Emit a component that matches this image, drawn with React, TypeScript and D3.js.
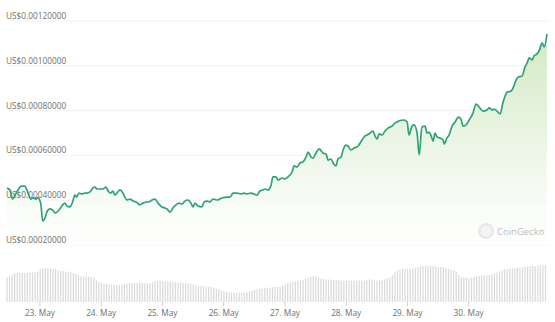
import React from "react";
import * as d3 from "d3";

// Hours since 22 May 00:00 and price in US$
const priceHours = [
  11.1, 12.2, 13.3, 14.2, 15.4, 16.8, 18.1, 18.9, 20.4, 21.3, 22.4, 23.2, 24.3, 25.1, 26.0, 26.7, 27.9, 29.0, 29.9, 30.7,
  31.8, 32.9, 33.8, 34.6, 35.8, 36.8, 37.7, 38.4, 39.3, 40.5, 41.6, 42.4, 43.6, 44.7, 45.6, 46.3, 47.5, 48.7, 49.9, 50.7,
  51.8, 52.6, 53.4, 54.2, 55.4, 56.5, 57.3, 58.1, 59.3, 60.5, 62.0, 63.2, 64.4, 66.0, 66.7, 67.9, 69.1, 70.3, 71.8, 73.0,
  73.8, 75.0, 76.1, 77.3, 78.5, 79.7, 80.8, 82.0, 83.2, 84.0, 84.8, 85.9, 87.5, 88.3, 89.5, 90.6, 91.8, 93.4, 95.3, 97.3,
  98.5, 99.7, 101.2, 102.8, 104.0, 105.1, 106.7, 107.9, 109.1, 110.2, 111.4, 112.2, 113.4, 114.6, 115.3, 116.5, 117.3, 118.9, 120.0, 121.2,
  122.8, 123.6, 124.7, 125.9, 127.1, 128.3, 129.1, 130.2, 131.0, 132.2, 133.4, 134.9, 136.1, 136.9, 138.1, 138.9, 140.0, 140.8, 142.0, 142.8,
  143.9, 144.7, 145.9, 147.1, 148.7, 150.2, 151.4, 152.2, 153.4, 154.5, 155.3, 156.1, 156.9, 158.1, 159.2, 160.4, 162.0, 163.2, 163.9, 165.1,
  166.7, 167.9, 168.6, 169.8, 170.6, 171.8, 172.6, 173.7, 174.9, 175.7, 176.5, 177.3, 178.1, 178.8, 179.6, 180.8, 182.0, 182.4, 183.5, 184.3,
  185.5, 186.7, 187.9, 189.0, 189.8, 191.0, 192.2, 193.7, 194.9, 196.1, 197.7, 199.2, 200.0, 201.2, 202.0, 203.1, 204.3, 205.5, 206.3, 207.1,
  208.6, 209.4, 210.6, 211.4, 212.9, 214.1, 214.9, 215.7, 216.9, 217.6, 218.8, 219.6, 220.8, 221.6, 222.7,
];

// price in millionths of a US$
const pricesMicro = [
  454, 446, 405, 423, 446, 463, 463, 446, 405, 410, 405, 410, 387, 307, 321, 347, 361, 356, 343, 347,
  361, 379, 387, 374, 370, 392, 423, 414, 432, 428, 432, 432, 437, 454, 459, 450, 450, 450, 459, 441,
  432, 441, 423, 432, 446, 432, 414, 401, 405, 396, 390, 379, 387, 392, 392, 401, 405, 387, 370, 365,
  361, 347, 365, 379, 387, 383, 396, 401, 387, 370, 387, 374, 370, 392, 396, 392, 405, 401, 410, 414,
  414, 432, 432, 428, 432, 428, 432, 428, 423, 441, 446, 450, 446, 468, 504, 504, 490, 499, 495, 504,
  526, 553, 548, 566, 571, 593, 615, 593, 588, 611, 629, 611, 606, 579, 584, 566, 553, 584, 593, 624,
  646, 642, 624, 633, 642, 669, 687, 691, 700, 709, 687, 673, 696, 691, 709, 722, 731, 745, 749, 756,
  758, 749, 691, 731, 736, 700, 602, 727, 731, 700, 704, 687, 664, 700, 682, 678, 669, 651, 678, 691,
  731, 749, 771, 762, 731, 736, 758, 789, 829, 816, 798, 803, 812, 803, 807, 798, 785, 838, 865, 883,
  887, 901, 937, 950, 954, 995, 1012, 1035, 1026, 1044, 1053, 1066, 1102, 1084, 1142,
];

// hourly volume (relative units), starting at hour 11 of 22 May
const volumeStartHour = 11;
const volumes = [
  25, 26, 27, 28.5, 29, 29, 29, 29, 29, 29.3, 29.5, 30, 30.3, 33, 33.5, 34, 34, 33.5, 33, 33,
  32, 31.3, 31, 30.5, 30.3, 30, 29, 28, 26.5, 26, 25.5, 25.5, 25.3, 25, 24, 22, 20, 19, 18.5, 18,
  17.7, 17.5, 17.3, 17, 17, 17.3, 17.8, 18.3, 18.7, 19, 19, 19.3, 19.3, 19, 18.7, 18.7, 18.7, 19.5, 20.5, 21,
  21.3, 21, 20.7, 20.3, 20.3, 20, 19.7, 19.3, 19.3, 19, 18.7, 18.7, 18.5, 17.5, 16.7, 16, 16, 15.7, 15.5, 15.3,
  15, 14, 13.3, 12.7, 12, 11, 10, 9.7, 9.5, 9.3, 9.3, 9.3, 9.3, 9.3, 10, 10.7, 11.3, 12, 12.7, 13.3,
  13.7, 14, 14.3, 14.3, 14.7, 15, 15.3, 15.3, 16.5, 17.7, 18.7, 19.3, 20, 20.3, 21, 21.7, 22.3, 23, 24, 25,
  25.7, 26, 25, 23.5, 23, 22.7, 22.5, 22.3, 22, 22, 21.7, 21.5, 21.3, 21.3, 21.3, 21.3, 21.3, 21.3, 21.3, 21.3,
  21.5, 22, 22.5, 22.7, 22, 21.3, 21.7, 22.3, 22.7, 23.5, 24.7, 27, 30.3, 31.5, 32.7, 33, 33, 33.2, 33.3, 33.8,
  34.3, 34.7, 35.3, 36, 36.2, 36.3, 36.3, 36, 35.5, 35.2, 35, 34.5, 34, 33, 32.3, 31.5, 30.5, 27, 25, 24.5,
  24, 23.7, 24, 25, 25.5, 26, 26.2, 26.5, 26.7, 27, 27.8, 28.5, 29.3, 30.5, 31.8, 32.7, 33, 33.3, 33.5, 33.7,
  34.2, 34.7, 35, 35.3, 35.5, 35.7, 36, 36, 36.3, 36.5, 36.7, 37,
];

const yTicks = [0.0002, 0.0004, 0.0006, 0.0008, 0.001, 0.0012];
const yTickLabels = ["US$0.00020000", "US$0.00040000", "US$0.00060000", "US$0.00080000", "US$0.00100000", "US$0.00120000"];
const dayTickDates = [23, 24, 25, 26, 27, 28, 29, 30];
const dayTickLabels = ["23. May", "24. May", "25. May", "26. May", "27. May", "28. May", "29. May", "30. May"];

const base = new Date(2023, 4, 22, 0, 0, 0).getTime();
const hourToDate = (h: number) => new Date(base + h * 3600 * 1000);

export default function App() {
  const W = 555;
  const H = 322;
  const left = 7;
  const right = 547;

  const x = d3
    .scaleTime()
    .domain([hourToDate(priceHours[0]), hourToDate(priceHours[priceHours.length - 1])])
    .range([left, right]);
  const y = d3.scaleLinear().domain([0.0002, 0.0012]).range([245, 21]);
  const vy = d3.scaleLinear().domain([0, 40]).range([302, 262]);

  const data = priceHours.map((h, i) => ({ d: hourToDate(h), p: pricesMicro[i] * 1e-6 }));
  const line = d3
    .line<{ d: Date; p: number }>()
    .x((e) => x(e.d))
    .y((e) => y(e.p))
    .curve(d3.curveMonotoneX);
  const area = d3
    .area<{ d: Date; p: number }>()
    .x((e) => x(e.d))
    .y0(250)
    .y1((e) => y(e.p))
    .curve(d3.curveMonotoneX);

  const font = "'Open Sans', 'Noto Sans', sans-serif";

  return (
    <svg
      width={W}
      height={H}
      style={{ position: "absolute", left: 0, top: 0, background: "#fff" }}
      fontFamily={font}
    >
      <defs>
        <linearGradient id="fillGrad" x1="0" y1="0" x2="0" y2="1" gradientUnits="objectBoundingBox">
          <stop offset="0%" stopColor="#cfe8c0" stopOpacity={0.95} />
          <stop offset="55%" stopColor="#e9f4e2" stopOpacity={0.8} />
          <stop offset="100%" stopColor="#ffffff" stopOpacity={0.6} />
        </linearGradient>
      </defs>
      {/* gridlines */}
      {yTicks.map((t) => (
        <line key={t} x1={left} x2={W - 6} y1={y(t)} y2={y(t)} stroke="#f1f1f1" strokeWidth={1} />
      ))}
      {/* area and line */}
      <path d={area(data) || ""} fill="url(#fillGrad)" />
      {/* y labels */}
      {yTicks.map((t, i) => (
        <text key={t} x={6} y={y(t) - 2} fontSize={8.3} fill="#6f6f6f">
          {yTickLabels[i]}
        </text>
      ))}
      <path d={line(data) || ""} fill="none" stroke="#2ea37a" strokeWidth={1.7} strokeLinejoin="round" />
      {/* watermark */}
      <g opacity={0.75}>
        <circle cx={486} cy={231} r={8} fill="#e2e2e2" />
        <circle cx={486} cy={231} r={5.5} fill="#f0f0f0" />
        <text x={497} y={234.5} fontSize={9.5} fill="#a9a9a9">
          CoinGecko
        </text>
      </g>
      {/* volume bars */}
      {volumes.map((v, i) => {
        const cx = x(hourToDate(volumeStartHour + i + 0.1));
        return <rect key={i} x={cx - 0.6} y={vy(v)} width={1.2} height={vy(0) - vy(v)} fill="#d9d9d9" />;
      })}
      {/* x axis ticks */}
      {dayTickDates.map((d, i) => {
        const xx = x(new Date(2023, 4, d, 0, 0, 0));
        return (
          <g key={d}>
            <line x1={xx} x2={xx} y1={302} y2={306} stroke="#cccccc" strokeWidth={1} />
            <text x={xx} y={316} fontSize={8.3} fill="#6f6f6f" textAnchor="middle">
              {dayTickLabels[i]}
            </text>
          </g>
        );
      })}
    </svg>
  );
}
